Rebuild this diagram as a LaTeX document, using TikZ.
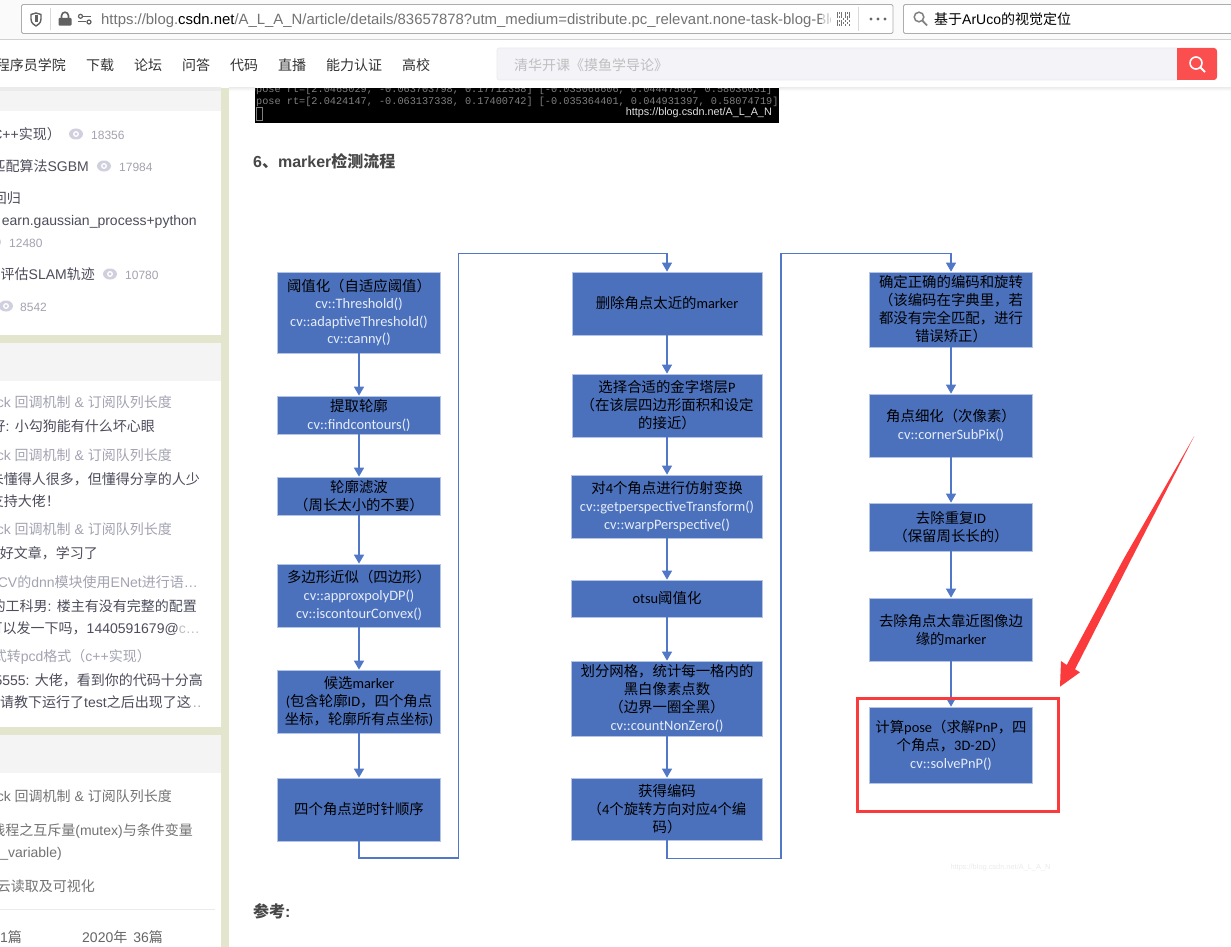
\documentclass[tikz,border=0pt]{standalone}
\usepackage{fontspec}
\usetikzlibrary{arrows.meta,calc}
\setmainfont{Liberation Sans}
\newfontfamily\cjk{Noto Sans CJK SC}
\newfontfamily\carl{Carlito}
\newfontfamily\mon{Liberation Mono}
\newcommand{\cj}[1]{{\cjk #1}}
\newcommand{\wl}[1]{{\color{cvwhite}#1}}
\newcount\tc
\definecolor{flowfill}{HTML}{4B71BC}
\definecolor{flowedge}{HTML}{B4C4E4}
\definecolor{conncol}{HTML}{5078C6}
\definecolor{cvwhite}{HTML}{E6ECF8}
\definecolor{redmark}{HTML}{FB3B3B}
\definecolor{pagegreen}{HTML}{E3E5CC}
\definecolor{cardhead}{HTML}{F4F4F4}
\definecolor{mutedtxt}{HTML}{A3A3B2}
\definecolor{darktxt}{HTML}{4D4D5C}
\definecolor{navtxt}{HTML}{333333}
\definecolor{urlgray}{HTML}{737373}
\definecolor{eyecol}{HTML}{CFCFDD}
\tikzset{
  x=1pt,y=-1pt,
  flow/.style={rectangle,draw=flowedge,fill=flowfill,line width=.7pt,inner sep=0pt,align=center,text=black,
    font=\fontsize{14.4}{18}\selectfont\carl},
  conn/.style={draw=conncol,line width=1.2pt,-{Triangle[length=9pt,width=10pt]}},
  connA/.style={conn,line width=1.6pt},
  side/.style={inner sep=0pt,yshift=-3pt,font=\fontsize{14}{16}\selectfont,text=darktxt},
  sidemuted/.style={side,text=mutedtxt},
  count/.style={inner sep=0pt,yshift=-3pt,font=\fontsize{12}{14}\selectfont,text=mutedtxt},
  nav/.style={inner sep=0pt,yshift=-3pt,anchor=mid west,font=\fontsize{14}{16}\selectfont\cjk,text=navtxt},
  termtxt/.style={inner sep=0pt,anchor=mid west,font=\fontsize{10.24}{12}\selectfont\mon,text=black!50!white},
  headtxt/.style={inner sep=0pt,yshift=-3pt,anchor=mid west,font=\fontsize{16}{18}\selectfont\bfseries,text=black!72},
}
\newcommand{\sr}[4][side]{\global\advance\tc by 1 \node[#1,anchor=mid east] (t\the\tc) at (#2,#3) {#4};}
\newcommand{\sw}[4][side]{\global\advance\tc by 1 \node[#1,anchor=mid west] (t\the\tc) at (#2,#3) {#4};}
\newcommand{\eyeicon}[2]{%
  \fill[eyecol] (#1,#2) ellipse [x radius=7,y radius=5.5];
  \fill[white] (#1,#2) circle (3);
  \fill[eyecol] (#1,#2) circle (1.6);}
\begin{document}
\begin{tikzpicture}
\useasboundingbox (0,0) rectangle (1231,947);
\fill[white] (0,0) rectangle (1231,947);
% ---- page background and cards
\fill[pagegreen] (0,88) rectangle (229,947);
\fill[cardhead] (0,88) rectangle (221,111);
\fill[white] (0,111) rectangle (221,335);
\fill[cardhead] (0,343) rectangle (221,381);
\fill[white] (0,381) rectangle (221,727);
\fill[cardhead] (0,735) rectangle (221,773);
\fill[white] (0,773) rectangle (221,947);
% ---- terminal image
\fill[black] (255,80) rectangle (779,123);
\node[termtxt] (term1) at (256,89.5) {pose rt=[2.0465029, -0.063703798, 0.17712358] [-0.035066606, 0.04447506, 0.58036031]};
\node[termtxt] (term2) at (256,101.7) {pose rt=[2.0424147, -0.063137338, 0.17400742] [-0.035364401, 0.044931397, 0.58074719]};
\draw[black!50!white,line width=.6pt] (256.5,107.5) rectangle (262.5,120);
\node[inner sep=0pt,anchor=mid east,yshift=-1pt,font=\fontsize{10.8}{13}\selectfont,text=black!12!white] (termwm) at (772,112) {https://blog.csdn.net/A\_L\_A\_N};
% ---- browser chrome
\fill[black!2] (0,0) rectangle (1231,39.5);
\draw[black!18,line width=.8pt] (0,39.5) -- (1231,39.5);
\fill[white] (0,40) rectangle (1231,88);
\shade[top color=black!8,bottom color=black!8!white] (0,88) rectangle (221,91);
\shade[top color=black!6,bottom color=white] (229,88) rectangle (255,91);
\shade[top color=black!6,bottom color=white] (779,88) rectangle (1231,91);
\draw[black!32,fill=white,line width=.8pt,rounded corners=1.5pt] (21.5,4.5) rectangle (893,33.5);
\draw[black!32,fill=white,line width=.8pt,rounded corners=1.5pt] (903.5,4.5) rectangle (1240,33.5);
% shield
\draw[black!62,line width=1.4pt,line join=round] (31,14.5) -- (36,13) -- (41,14.5) -- (41,19) .. controls (41,23) and (38,25) .. (36,26) .. controls (34,25) and (31,23) .. (31,19) -- cycle;
\fill[black!62] (34.5,15.5) rectangle (37.5,22.5);
\draw[black!15,line width=.8pt] (50,8) -- (50,30);
% lock
\draw[black!62,line width=1.6pt] (61.5,18) -- (61.5,16) .. controls (61.5,11) and (68.5,11) .. (68.5,16) -- (68.5,18);
\fill[black!62,rounded corners=1pt] (58.5,18) rectangle (71.5,25.7);
% permissions
\fill[black!62] (82,15.8) rectangle (91,17);
\fill[black!62] (78,21.3) rectangle (86,22.5);
\draw[black!62,line width=1.2pt] (80.5,16.3) circle (2);
\draw[black!62,line width=1.2pt] (89,22) circle (2);
% URL
\begin{scope}
\clip (100,6) rectangle (830,32);
\node[inner sep=0pt,anchor=mid west,yshift=-3pt,font=\fontsize{14.9}{16}\selectfont,text=urlgray] (url) at (101,19) {https://blog.{\color{black}csdn.net}/A\_L\_A\_N/article/details/83657878?utm\_medium=distribute.pc\_relevant.none-task-blog-BlogCommend};
\end{scope}
\fill[white,opacity=.6] (822,6) rectangle (834,32);
% QR icon
\foreach \ix/\iy in {0/0,1/0,2/0,4/0,5/0,6/0,0/1,2/1,4/1,6/1,0/2,1/2,2/2,4/2,5/2,6/2,3/3,5/3,0/4,1/4,2/4,4/4,6/4,0/5,2/5,3/5,5/5,0/6,1/6,2/6,4/6,6/6}
  \fill[black!55] ({836.5+2*\ix},{12.5+2*\iy}) rectangle ++(1.7,1.7);
\draw[black!15,line width=.8pt] (858,7) -- (858,31);
\foreach \dx in {871,878,885}{\fill[black!60] (\dx,19) circle (1.7);}
% search box
\draw[black!50,line width=1.5pt] (919,17) circle (4.8);
\draw[black!50,line width=1.8pt] (922.5,20.7) -- (927,25.5);
\node[inner sep=0pt,anchor=mid west,yshift=-3pt,font=\fontsize{14}{16}\selectfont,text=black] (query) at (934,19) {\cj{基于}ArUco\cj{的视觉定位}};
% nav
\node[nav,anchor=mid east] (n0) at (66,65) {程序员学院};
\node[nav] (n1) at (86,65) {下载};
\node[nav] (n2) at (134,65) {论坛};
\node[nav] (n3) at (182,65) {问答};
\node[nav] (n4) at (230,65) {代码};
\node[nav] (n5) at (278,65) {直播};
\node[nav] (n6) at (326,65) {能力认证};
\node[nav] (n7) at (402,65) {高校};
\fill[black!3!white!98!blue,rounded corners=2pt] (497,48) rectangle (1180,80);
\draw[black!8,rounded corners=2pt,line width=.6pt] (497,48) rectangle (1180,80);
\node[nav,text=black!25] (ph) at (514,65) {清华开课《摸鱼学导论》};
\fill[redmark!90!white,rounded corners=3pt] (1177,48) rectangle (1217,80);
\fill[redmark!90!white] (1177,48) rectangle (1183,80);
\draw[white,line width=1.6pt] (1196,63) circle (6);
\draw[white,line width=1.8pt] (1200.5,67.5) -- (1205,72);
% ---- sidebar text
\sr{61}{134}{C++\cj{实现）}}
\eyeicon{76}{134}
\sw[count]{91}{134}{18356}
\sr{89}{166}{\cj{匹配算法}SGBM}
\eyeicon{104}{166}
\sw[count]{119}{166}{17984}
\sr{21}{198}{\cj{回归}}
\sr{197}{220}{earn.gaussian\_process+python}
\eyeicon{-6}{242}
\sw[count]{9}{242}{12480}
\sr{95}{274}{\cj{评估}SLAM\cj{轨迹}}
\eyeicon{110}{274}
\sw[count]{125}{274}{10780}
\eyeicon{6}{306}
\sw[count]{20}{306}{8542}
\sr[sidemuted]{172}{402}{ck \cj{回调机制} \& \cj{订阅队列长度}}
\sr{155}{426}{\cj{好}: \cj{小勾狗能有什么坏心眼}}
\sr[sidemuted]{172}{455}{ck \cj{回调机制} \& \cj{订阅队列长度}}
\sr{200}{479}{\cj{未懂得人很多，但懂得分享的人少}}
\sr{60}{501}{\cj{支持大佬！}}
\sr[sidemuted]{172}{529}{ck \cj{回调机制} \& \cj{订阅队列长度}}
\sr{98}{553}{\cj{好文章，学习了}}
\sr[sidemuted]{198}{582}{CV\cj{的}dnn\cj{模块使用}ENet\cj{进行语}…}
\sr{197}{606}{\cj{的工科男}: \cj{楼主有没有完整的配置}}
\sr{200}{628}{\cj{可以发一下吗，}1440591679@{\color{black!25}c…}}
\sr[sidemuted]{151}{656}{\cj{式转}pcd\cj{格式（}c++\cj{实现）}}
\sr{203}{680}{5555: \cj{大佬，看到你的代码十分高}}
\sr{202}{702}{\cj{请教下运行了}test\cj{之后出现了这}\kern-3pt{\color{black!35}…}}
\sr[side,text=black!55]{172}{796}{ck \cj{回调机制} \& \cj{订阅队列长度}}
\sr[side,text=black!55]{193}{830}{\cj{线程之互斥量}(mutex)\cj{与条件变量}}
\sr[side,text=black!55]{62}{852}{\_variable)}
\sr[side,text=black!55]{95}{886}{\cj{云读取及可视化}}
\draw[black!8,line width=.8pt] (0,909.5) -- (215,909.5);
\sr[side,text=black!60]{22}{937}{1\cj{篇}}
\sw[side,text=black!60]{82}{937}{2020\cj{年}\hspace{6pt}36\cj{篇}}
% ---- headings
\node[headtxt] (h6) at (253,162) {6\cj{、}marker\cj{检测流程}};
\node[headtxt] (ref) at (253,912) {\cj{参考}:};
% ---- flowchart column 1
\node[flow,font=\fontsize{14.4}{17.3}\selectfont\carl,minimum width=163pt,minimum height=81pt] (a1) at (359,312.5) {\cj{阈值化（自适应阈值）}\\\wl{cv::Threshold()}\\\wl{cv::adaptiveThreshold()}\\\wl{cv::canny()}};
\node[flow,minimum width=163pt,minimum height=38pt] (a2) at (359,415) {\cj{提取轮廓}\\\wl{cv::findcontours()}};
\node[flow,minimum width=163pt,minimum height=38pt] (a3) at (359,496) {\cj{轮廓滤波}\\\cj{（周长太小的不要）}};
\node[flow,minimum width=163pt,minimum height=63pt] (a4) at (359,595.5) {\cj{多边形近似（四边形）}\\\wl{cv::approxpolyDP()}\\\wl{cv::iscontourConvex()}};
\node[flow,minimum width=163pt,minimum height=63pt] (a5) at (359,701.5) {\cj{候选}marker\\(\cj{包含轮廓}ID\cj{，四个角点}\\\cj{坐标，轮廓所有点坐标})};
\node[flow,minimum width=163pt,minimum height=63pt] (a6) at (359,809.5) {\cj{四个角点逆时针顺序}};
% column 2
\node[flow,minimum width=190pt,minimum height=63pt] (b1) at (667,303.5) {\cj{删除角点太近的}marker};
\node[flow,minimum width=190pt,minimum height=63pt] (b2) at (667,405.5) {\cj{选择合适的金字塔层}P\\\cj{（在该层四边形面积和设定}\\\cj{的接近）}};
\node[flow,minimum width=191pt,minimum height=63pt] (b3) at (667,506.5) {\cj{对}4\cj{个角点进行仿射变换}\\\wl{cv::getperspectiveTransform()}\\\wl{cv::warpPerspective()}};
\node[flow,minimum width=191pt,minimum height=37pt] (b4) at (667,598.5) {otsu\cj{阈值化}};
\node[flow,minimum width=191pt,minimum height=75pt] (b5) at (667,698.5) {\cj{划分网格，统计每一格内的}\\\cj{黑白像素点数}\\\cj{（边界一圈全黑）}\\\wl{cv::countNonZero()}};
\node[flow,minimum width=191pt,minimum height=62pt] (b6) at (667,809) {\cj{获得编码}\\\cj{（}4\cj{个旋转方向对应}4\cj{个编}\\\cj{码）}};
% column 3
\node[flow,minimum width=162.5pt,minimum height=75pt] (c1) at (951,309.5) {\cj{确定正确的编码和旋转}\\\cj{（该编码在字典里，若}\\\cj{都没有完全匹配，进行}\\\cj{错误矫正）}};
\node[flow,minimum width=162.5pt,minimum height=63pt] (c2) at (951,425.5) {\cj{角点细化（次像素）}\\\wl{cv::cornerSubPix()}};
\node[flow,minimum width=162.5pt,minimum height=48pt] (c3) at (951,527) {\cj{去除重复}ID\\\cj{（保留周长长的）}};
\node[flow,minimum width=162.5pt,minimum height=63pt] (c4) at (951,629.5) {\cj{去除角点太靠近图像边}\\\cj{缘的}marker};
\node[flow,minimum width=162.5pt,minimum height=76pt] (c5) at (951,745) {\cj{计算}pose\cj{（求解}PnP\cj{，四}\\\cj{个角点，}3D-2D\cj{）}\\\wl{cv::solvePnP()}};
% connectors
\draw[connA] (a1) -- (a2);
\draw[connA] (a2) -- (a3);
\draw[connA] (a3) -- (a4);
\draw[connA] (a4) -- (a5);
\draw[connA] (a5) -- (a6);
\coordinate (ja) at (458.5,858);
\coordinate (jb) at (458.5,253.5);
\draw[conn] (a6.south) |- (ja) -- (jb) -| (b1.north);
\draw[conn] (b1) -- (b2);
\draw[conn] (b2) -- (b3);
\draw[conn] (b3) -- (b4);
\draw[conn] (b4) -- (b5);
\draw[conn] (b5) -- (b6);
\coordinate (jc) at (781,858.5);
\coordinate (jd) at (781,253.5);
\draw[conn] (b6.south) |- (jc) -- (jd) -| (c1.north);
\draw[conn] (c1) -- (c2);
\draw[conn] (c2) -- (c3);
\draw[conn] (c3) -- (c4);
\draw[conn] (c4) -- (c5);
% faint watermark
\node[inner sep=0pt,font=\fontsize{7.4}{9}\selectfont,text=black!8] (wm) at (1000.5,868) {https://blog.csdn.net/A\_L\_A\_N};
% red marks
\draw[redmark,line width=3pt] (857,698) rectangle (1058.5,811);
\fill[redmark] (1194.3,436) -- (1131.7,558.3) -- (1075,669.3) -- (1080,672.3) -- (1060,686.7) -- (1061,661) -- (1066.7,665) -- (1124,558.3) -- cycle;
\end{tikzpicture}
\end{document}
